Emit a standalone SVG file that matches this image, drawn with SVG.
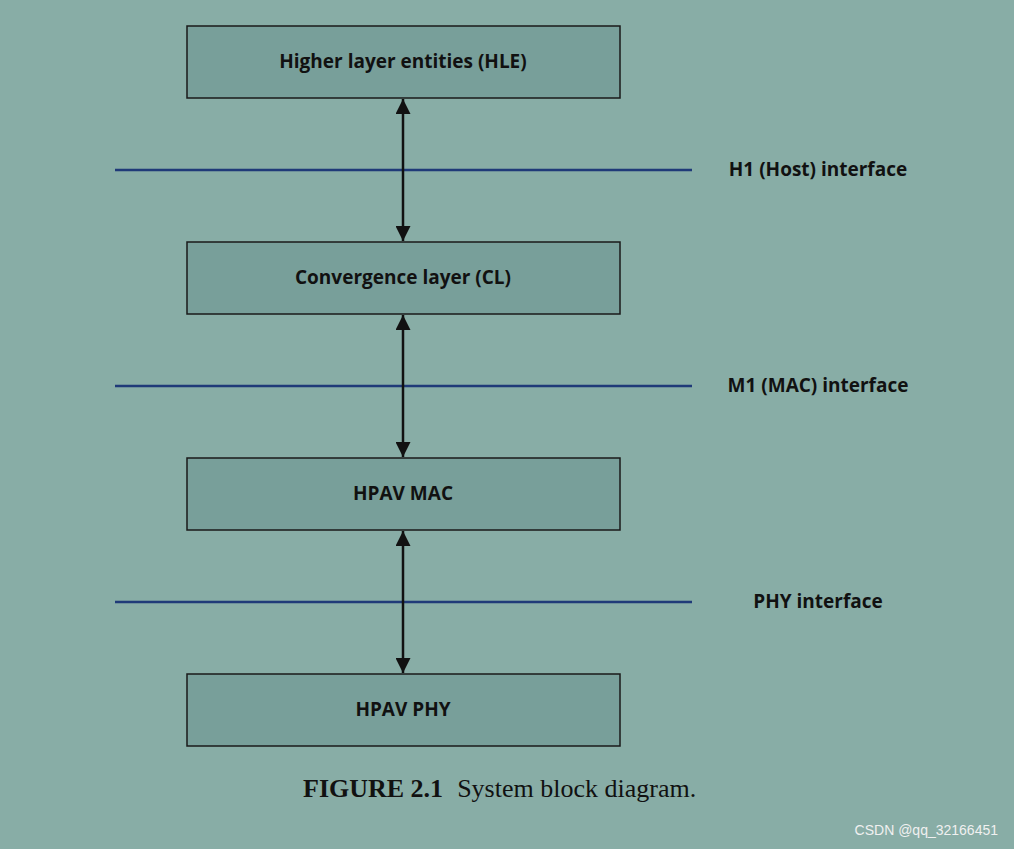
<svg xmlns="http://www.w3.org/2000/svg" width="1014" height="849" viewBox="0 0 1014 849">
<style>
.box{fill:#789f9a;stroke:#1a1a1a;stroke-width:1.5}
.t{font-family:"Open Sans","Liberation Sans",sans-serif;font-weight:bold;font-size:19px;fill:#111}
.if{stroke:#1f3a78;stroke-width:2.5}
.c{stroke:#111;stroke-width:2.5;fill:none;marker-start:url(#a);marker-end:url(#a)}
</style>
<defs><marker id="a" viewBox="0 0 10 10" refX="10" refY="5" markerWidth="6" markerHeight="6" markerUnits="strokeWidth" orient="auto-start-reverse"><path d="M0,0L10,5L0,10z" fill="#111"/></marker></defs>
<rect width="1014" height="849" fill="#88ada6"/>
<g id="interfaces">
<line class="if" x1="115" y1="170" x2="692" y2="170"/>
<line class="if" x1="115" y1="386" x2="692" y2="386"/>
<line class="if" x1="115" y1="602" x2="692" y2="602"/>
<text class="t" x="818" y="176" text-anchor="middle">H1 (Host) interface</text>
<text class="t" x="818" y="392" text-anchor="middle">M1 (MAC) interface</text>
<text class="t" x="818" y="608" text-anchor="middle">PHY interface</text>
</g>
<g id="hle"><rect class="box" x="187" y="26" width="433" height="72"/><text class="t" x="403" y="68" text-anchor="middle">Higher layer entities (HLE)</text></g>
<g id="cl"><rect class="box" x="187" y="242" width="433" height="72"/><text class="t" x="403" y="284" text-anchor="middle">Convergence layer (CL)</text></g>
<g id="mac"><rect class="box" x="187" y="458" width="433" height="72"/><text class="t" x="403" y="500" text-anchor="middle">HPAV MAC</text></g>
<g id="phy"><rect class="box" x="187" y="674" width="433" height="72"/><text class="t" x="403" y="716" text-anchor="middle">HPAV PHY</text></g>
<g id="connectors">
<line class="c" x1="403" y1="99" x2="403" y2="241"/>
<line class="c" x1="403" y1="315" x2="403" y2="457"/>
<line class="c" x1="403" y1="531" x2="403" y2="673"/>
</g>
<text x="303" y="797" font-family="Liberation Serif,serif" font-size="26" fill="#111"><tspan font-weight="bold">FIGURE 2.1</tspan><tspan dx="14">System block diagram.</tspan></text>
<text x="998" y="835" text-anchor="end" font-family="Liberation Sans,sans-serif" font-size="14" fill="#f0f0f0">CSDN @qq_32166451</text>
</svg>
